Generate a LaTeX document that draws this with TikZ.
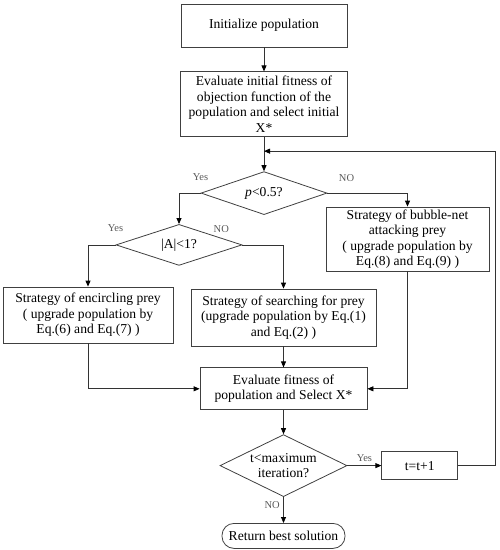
\documentclass[tikz,border=0pt]{standalone}
\usepackage{fontspec}
\setmainfont{Liberation Serif}
\usetikzlibrary{positioning,shapes.geometric,arrows.meta,calc}

\begin{document}
\begin{tikzpicture}[x=1pt, y=1pt, font=\fontsize{13.6}{15.5}\selectfont,
  b/.style={rectangle, draw=black!75, line width=.8pt, align=center, inner sep=2pt},
  d/.style={diamond, draw=black!75, line width=.8pt, align=center, inner sep=0pt, aspect=2},
  t/.style={rectangle, rounded corners=12pt, draw=black!75, line width=.8pt, inner sep=2pt},
  a/.style={draw=black!80, line width=.8pt, -{Triangle[length=6pt, width=5pt, color=black]}},
  g/.style={draw=black!45, line width=1.2pt},
  lbl/.style={text=black!65, font=\fontsize{10.5}{12}\selectfont}]
  \useasboundingbox (0,0) rectangle (500,-550);

  \node[b, minimum width=166pt, minimum height=43pt] (init) at (264,-25.5) {Initialize population};
  \node[b, minimum width=167pt, minimum height=65pt, below=24pt of init] (eval0) {Evaluate initial fitness of\\objection function of the\\population and select initial\\X*};
  \node[d, minimum width=126pt, minimum height=43pt, below=34pt of eval0] (p) {\textit{p}<0.5?};
  \node[d, minimum width=126pt, minimum height=41pt, below=9pt of p, xshift=-85pt] (A) {|A|<1?};
  \node[b, minimum width=163pt, minimum height=64pt] (bubble) at (407.5,-239) {Strategy of bubble-net\\attacking prey\\( upgrade population by\\Eq.(8) and Eq.(9) )};
  \node[b, minimum width=170pt, minimum height=56pt] (encircle) at (88,-315) {Strategy of encircling prey\\( upgrade population by\\Eq.(6) and Eq.(7) )};
  \node[b, minimum width=185pt, minimum height=57pt] (search) at (283.5,-317.5) {Strategy of searching for prey\\(upgrade population by Eq.(1)\\and Eq.(2) )};
  \node[b, minimum width=167pt, minimum height=42pt, below=21pt of search] (evalfit) {Evaluate fitness of\\population and Select X*};
  \node[d, minimum width=127pt, minimum height=62pt, below=24pt of evalfit] (tmax) {t<maximum\\iteration?};
  \node[b, minimum width=76pt, minimum height=28pt, right=34pt of tmax] (tinc) {t=t+1};
  \node[t, minimum width=123pt, minimum height=25pt, below=26pt of tmax] (ret) {Return best solution};
  \coordinate (join) at ($(eval0.south)!0.41!(p.north)$);

  \node[lbl, above=9pt of p.west] (p_yes) {Yes};
  \node[lbl, above right=8pt and 8pt of p.east] (p_no) {NO};
  \node[lbl, above=10pt of A.west] (A_yes) {Yes};
  \node[lbl, above left=9pt and 10pt of A.east] (A_no) {NO};

  \path[g, a] (init) edge (eval0);
  \path[g, a] (eval0) edge (p);
  \draw[a] (p.west) -| (A.north);
  \draw[a] (p.east) -| (bubble.north);
  \draw[a] (A.west) -| (encircle.north);
  \draw[a] (A.east) -| (search.north);
  \path[a] (search) edge (evalfit);
  \draw[a] (encircle.south) |- (evalfit.west);
  \draw[a] (bubble.south) |- (evalfit.east);
  \path[a] (evalfit) edge (tmax);
  \path[a] (tmax) edge node[lbl, above] {Yes} (tinc);
  \path[a] (tmax) edge node[lbl, left, pos=.3] {NO} (ret);
  \draw[a] (tinc.east) -- ++(37pt,0) |- (join);
\end{tikzpicture}
\end{document}
